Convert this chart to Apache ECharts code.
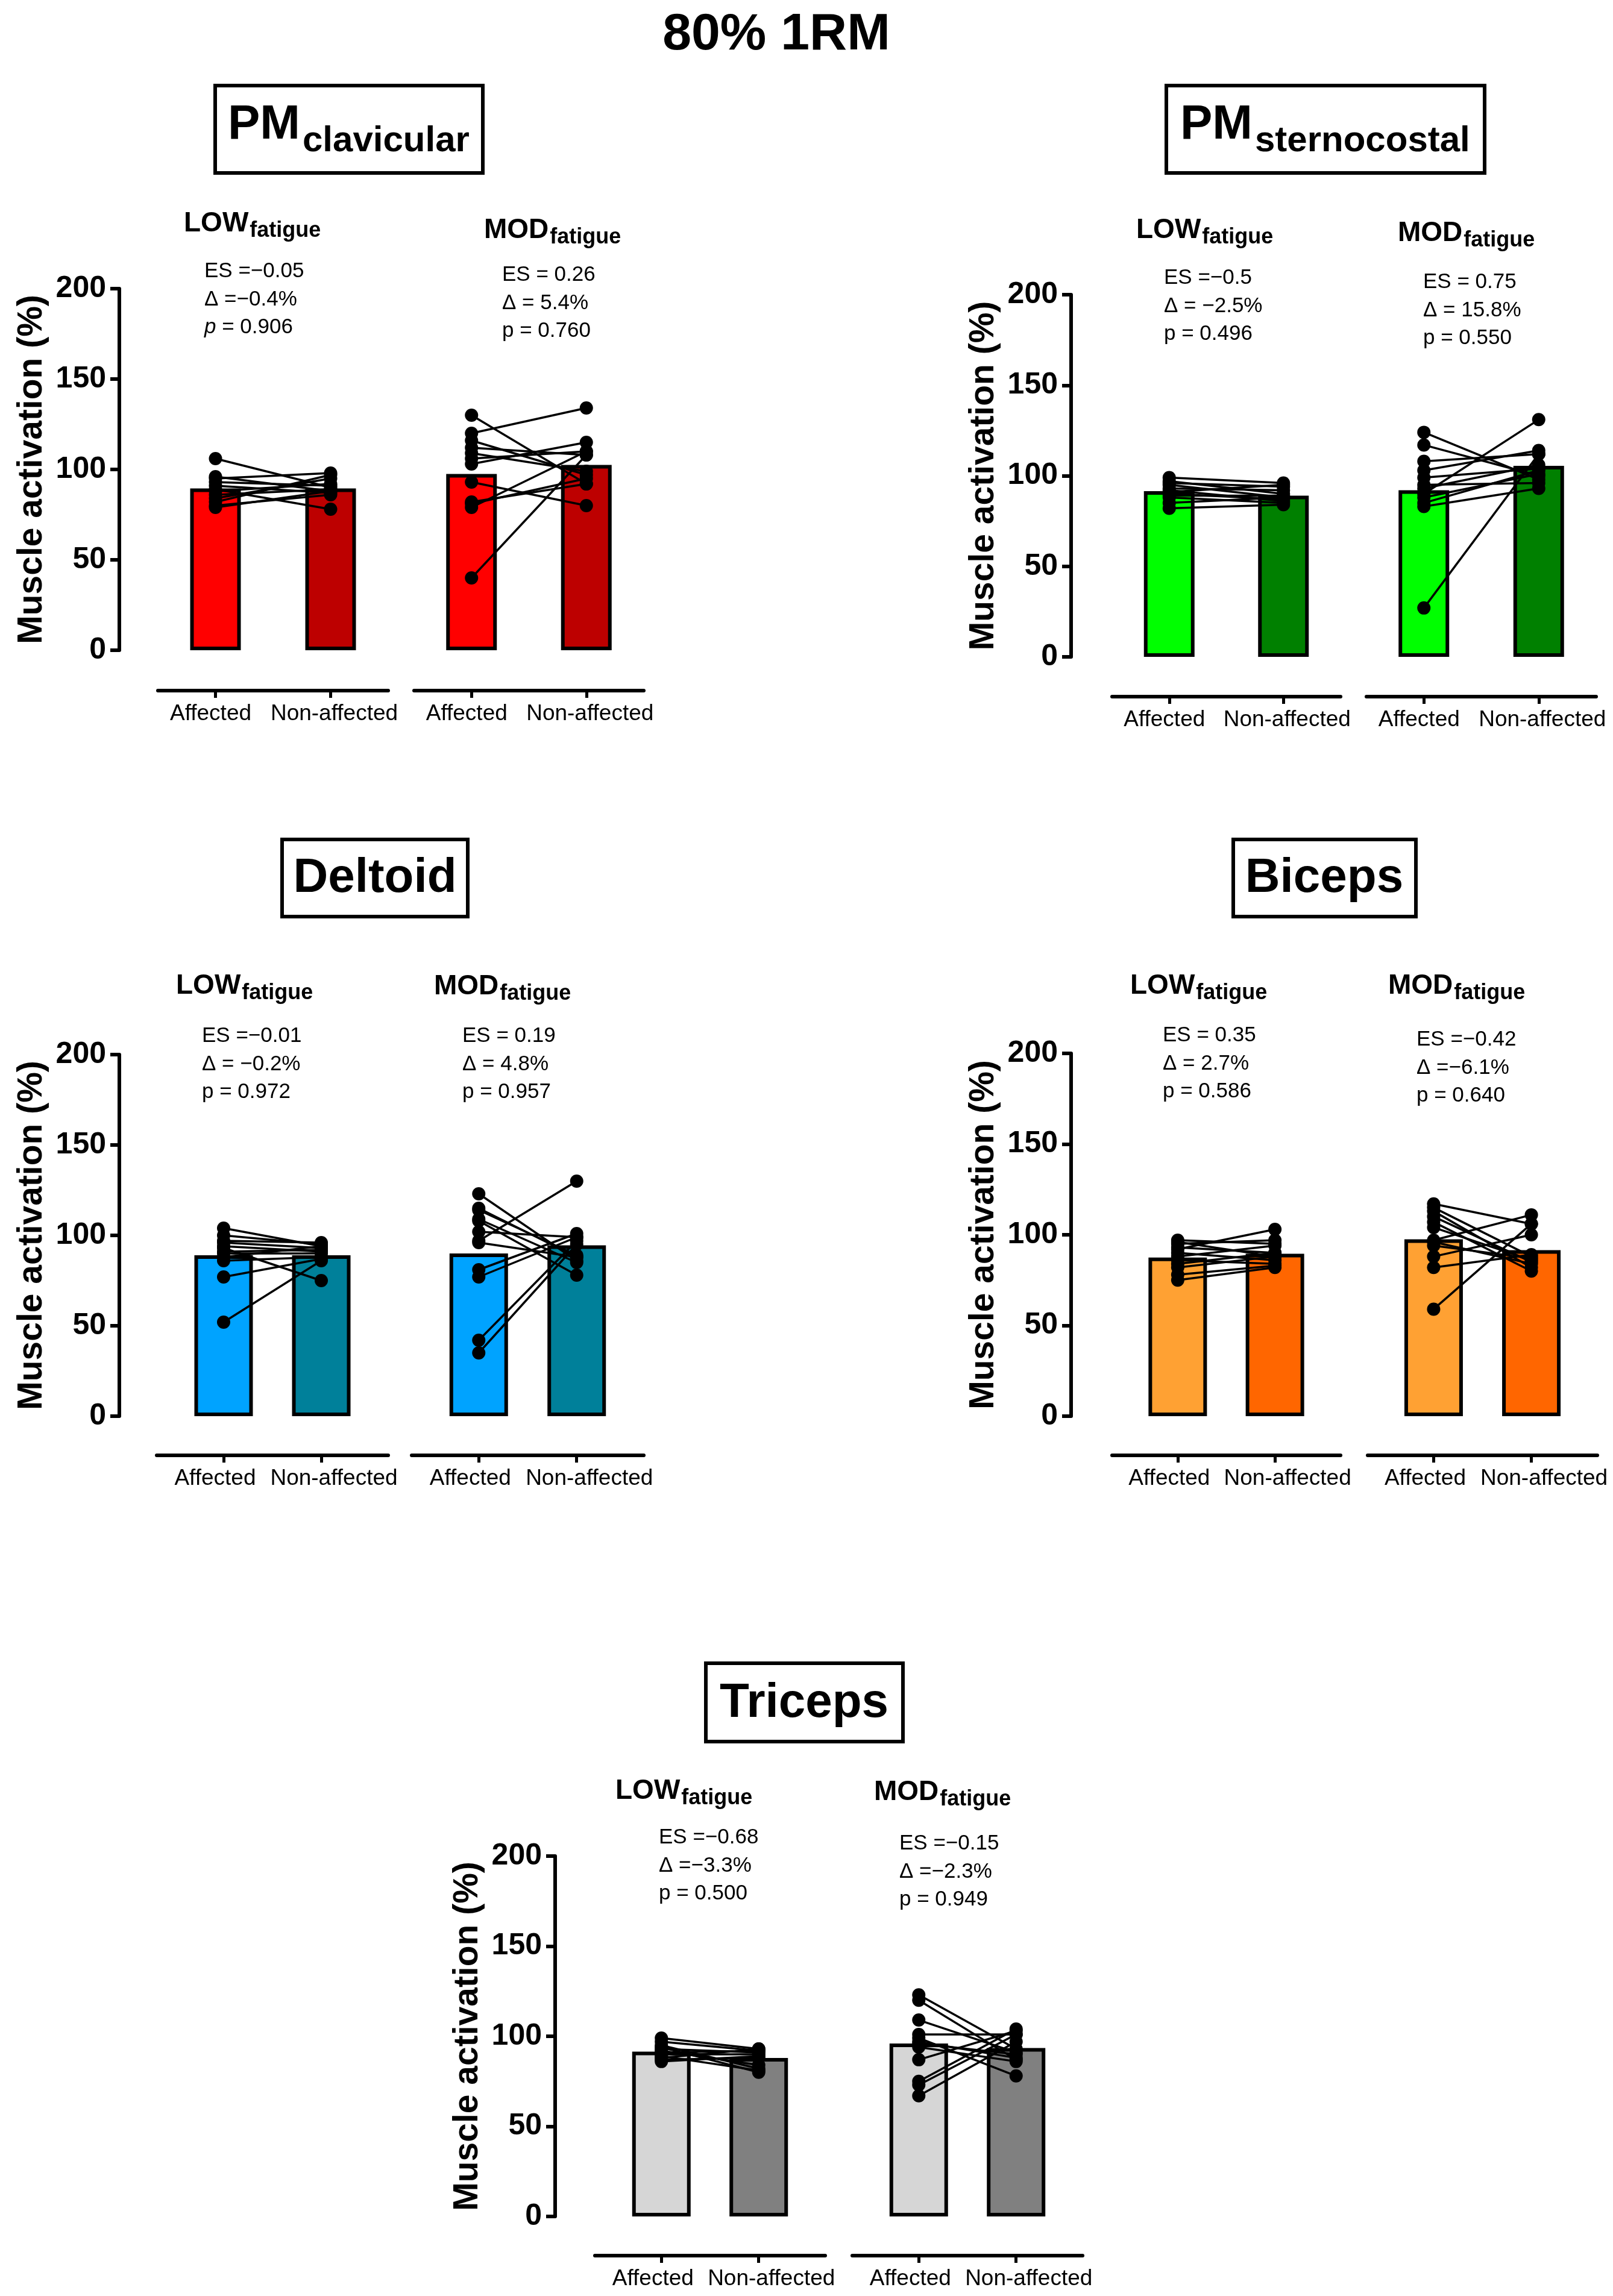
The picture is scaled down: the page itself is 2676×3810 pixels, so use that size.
<!DOCTYPE html>
<html>
<head>
<meta charset="utf-8">
<title>80% 1RM</title>
<script src="https://cdn.jsdelivr.net/npm/echarts@6/dist/echarts.min.js"></script>
<style>
  html, body { margin: 0; padding: 0; background: #fff; }
  #chart { width: 2676px; height: 3810px; }
</style>
</head>
<body>
<div id="chart"></div>
<script>
// categories and tick settings
var categories = ['Affected', 'Non-affected'];
var yMin = 0, yMax = 200, yStep = 50;

// PM clavicular - individual values (LOW / MOD fatigue)
var pmClavLowAff = [106, 96, 95, 93, 91, 89, 88, 86, 84, 82, 80, 79];
var pmClavLowNon = [90, 88, 98, 91, 87, 78, 92, 89, 95, 97, 86, 88];
var pmClavModAff = [130, 120, 116, 112, 109, 106, 103, 93, 82, 79, 40, 81];
var pmClavModNon = [92, 134, 97, 108, 99, 110, 115, 80, 92, 110, 108, 95];
var pmClavBars = [89.5, 89.5, 97.5, 102.5];

// PM sternocostal
var pmSterLowAff = [99, 97, 96, 95, 93, 92, 91, 90, 89, 88, 85, 82];
var pmSterLowNon = [96, 90, 94, 88, 92, 86, 95, 87, 89, 85, 88, 84];
var pmSterModAff = [124, 117, 108, 103, 99, 95, 90, 85, 83, 27, 93, 88];
var pmSterModNon = [98, 100, 112, 114, 104, 96, 131, 103, 93, 112, 106, 101];
var pmSterBars = [91.5, 89, 92, 105.5];

// Deltoid
var deltLowAff = [104, 100, 97, 96, 94, 93, 91, 90, 88, 86, 77, 52];
var deltLowNon = [94, 95, 96, 93, 91, 75, 92, 90, 94, 88, 87, 86];
var deltModAff = [123, 115, 114, 109, 108, 102, 97, 96, 81, 77, 42, 35];
var deltModNon = [86, 88, 89, 85, 78, 99, 130, 88, 101, 99, 97, 95];
var deltBars = [89, 89, 90, 94.5];

// Biceps
var bicLowAff = [97, 96, 95, 93, 92, 90, 88, 86, 84, 82, 78, 75];
var bicLowNon = [95, 88, 97, 90, 103, 86, 94, 84, 90, 88, 83, 82];
var bicModAff = [117, 115, 113, 110, 107, 104, 97, 96, 94, 88, 82, 59];
var bicModNon = [106, 88, 82, 85, 80, 86, 111, 84, 87, 100, 89, 106];
var bicBars = [87.5, 89.5, 97.5, 91.5];

// Triceps
var triLowAff = [99, 97, 95, 94, 93, 92, 91, 90, 89, 88, 87, 86];
var triLowNon = [93, 92, 82, 80, 91, 84, 92, 90, 81, 93, 88, 89];
var triModAff = [123, 120, 109, 101, 99, 97, 94, 87, 75, 73, 67, 96];
var triModNon = [93, 87, 91, 101, 78, 88, 86, 103, 104, 101, 97, 90];
var triBars = [91.5, 88, 96, 93.5];

// stats text
var pmClavStats = [['ES =\u22120.05', '\u0394 =\u22120.4%', 'p = 0.906'], ['ES = 0.26', '\u0394 = 5.4%', 'p = 0.760']];
var pmSterStats = [['ES =\u22120.5', '\u0394 = \u22122.5%', 'p = 0.496'], ['ES = 0.75', '\u0394 = 15.8%', 'p = 0.550']];
var deltStats = [['ES =\u22120.01', '\u0394 = \u22120.2%', 'p = 0.972'], ['ES = 0.19', '\u0394 = 4.8%', 'p = 0.957']];
var bicStats = [['ES = 0.35', '\u0394 = 2.7%', 'p = 0.586'], ['ES =\u22120.42', '\u0394 =\u22126.1%', 'p = 0.640']];
var triStats = [['ES =\u22120.68', '\u0394 =\u22123.3%', 'p = 0.500'], ['ES =\u22120.15', '\u0394 =\u22122.3%', 'p = 0.949']];

var FONT = '"Liberation Sans", Arial, Helvetica, sans-serif';
var cv = document.createElement('canvas').getContext('2d');
function measure(str, size, bold) {
    cv.font = (bold ? 'bold ' : '') + size + 'px ' + FONT;
    return cv.measureText(str).width;
}

// panel layout (pixels)
var panels = [
    { pts: [pmClavLowAff, pmClavLowNon, pmClavModAff, pmClavModNon], bars: pmClavBars, stats: pmClavStats,
      colors: ['#FF0000', '#BD0000'], title: ['PM', 'clavicular'], tx: 378, tb: 236, box: [357, 142, 444, 145],
      axisX: 198, top: 479, y0: 1079, line: 1146, low: [262, 644], mod: [687, 1068], m: 0.5, bw: 84, shift: [8, 6],
      lowLbl: [305, 387], modLbl: [803, 398], esLow: [339, 463], esMod: [833, 469], italicP: true },
    { pts: [pmSterLowAff, pmSterLowNon, pmSterModAff, pmSterModNon], bars: pmSterBars, stats: pmSterStats,
      colors: ['#00FF00', '#008000'], title: ['PM', 'sternocostal'], tx: 1958, tb: 236, box: [1935, 142, 528, 145],
      axisX: 1777, top: 489, y0: 1090, line: 1156, low: [1845, 2224], mod: [2267, 2648], m: 0.5, bw: 84, shift: [8, 6],
      lowLbl: [1885, 398], modLbl: [2319, 403], esLow: [1931, 474], esMod: [2361, 481] },
    { pts: [deltLowAff, deltLowNon, deltModAff, deltModNon], bars: deltBars, stats: deltStats,
      colors: ['#00A3FF', '#00809A'], title: 'Deltoid', tcx: 622, tb: 1486, box: [468, 1393, 308, 128],
      axisX: 198, top: 1750, y0: 2350, line: 2415, low: [260, 644], mod: [683, 1068], m: 0.685, bw: 97, shift: [14, 21],
      lowLbl: [292, 1652], modLbl: [720, 1653], esLow: [335, 1732], esMod: [767, 1732] },
    { pts: [bicLowAff, bicLowNon, bicModAff, bicModNon], bars: bicBars, stats: bicStats,
      colors: ['#FFA133', '#FF6600'], title: 'Biceps', tcx: 2197, tb: 1486, box: [2046, 1393, 303, 128],
      axisX: 1777, top: 1748, y0: 2350, line: 2415, low: [1845, 2224], mod: [2269, 2650], m: 0.675, bw: 97, shift: [14, 21],
      lowLbl: [1875, 1652], modLbl: [2303, 1652], esLow: [1929, 1731], esMod: [2350, 1738] },
    { pts: [triLowAff, triLowNon, triModAff, triModNon], bars: triBars, stats: triStats,
      colors: ['#D6D6D6', '#808080'], title: 'Triceps', tcx: 1334, tb: 2855, box: [1171, 2760, 327, 130],
      axisX: 921, top: 3080, y0: 3678, line: 3743, low: [987, 1369], mod: [1414, 1796], m: 0.683, bw: 97, shift: [14, 21],
      lowLbl: [1021, 2988], modLbl: [1450, 2990], esLow: [1093, 3062], esMod: [1492, 3072] }
];

function label(x, base, str, size, bold, align, rich) {
    var st = {
        text: str, fontSize: size, fontWeight: bold ? 'bold' : 'normal', fontFamily: FONT, fill: '#000',
        align: align || 'left', verticalAlign: 'middle',
        textAlign: align || 'left', textVerticalAlign: 'middle'
    };
    if (rich) st.rich = rich;
    return { type: 'text', x: x, y: base - 0.35 * size, silent: true, style: st };
}
function subLabel(x, base, main, sub, ms, ss, drop, gap) {
    var w = measure(main, ms, true);
    return [label(x, base, main, ms, true), label(x + w + gap, base + drop, sub, ss, true)];
}

var grids = [], xAxes = [], yAxes = [], series = [], graphics = [];

graphics.push(label(1288, 88, '80% 1RM', 86, true, 'center'));

panels.forEach(function (p, pi) {
    // title box
    graphics.push({ type: 'rect', silent: true, shape: { x: p.box[0], y: p.box[1], width: p.box[2], height: p.box[3] },
        style: { fill: 'none', stroke: '#000', lineWidth: 6 } });
    if (Array.isArray(p.title)) {
        graphics = graphics.concat(subLabel(p.tx, p.tb, p.title[0], p.title[1], 80, 60, 19, 4));
    } else {
        graphics.push(label(p.tcx, p.tb, p.title, 80, true, 'center'));
    }
    graphics = graphics.concat(subLabel(p.lowLbl[0], p.lowLbl[1], 'LOW', 'fatigue', 46, 36, 9, 2));
    graphics = graphics.concat(subLabel(p.modLbl[0], p.modLbl[1], 'MOD', 'fatigue', 46, 36, 9, 2));

    [p.esLow, p.esMod].forEach(function (pos, g) {
        p.stats[g].forEach(function (s, k) {
            var base = pos[1] + k * 46.5;
            if (p.italicP && g === 0 && k === 2) {
                graphics.push(label(pos[0], base, '{i|p}' + s.slice(1), 35, false, 'left',
                    { i: { fontStyle: 'italic', fontSize: 35, fontFamily: FONT, fill: '#000' } }));
            } else {
                graphics.push(label(pos[0], base, s, 35, false));
            }
        });
    });

    [p.low, p.mod].forEach(function (ext, g) {
        var gi = pi * 2 + g;
        grids.push({ left: ext[0], top: p.top, width: ext[1] - ext[0], height: p.y0 - p.top });
        xAxes.push({
            gridIndex: gi, type: 'value', min: -p.m, max: 1 + p.m, position: 'bottom', offset: p.line - p.y0,
            axisLine: { show: true, onZero: false, lineStyle: { color: '#000', width: 6 } },
            axisTick: { show: true, customValues: [0, 1], length: 12, lineStyle: { color: '#000', width: 5 } },
            axisLabel: {
                show: true, customValues: [0, 1], hideOverlap: false, showMinLabel: true, showMaxLabel: true,
                fontSize: 37, fontFamily: FONT, color: '#000', margin: 20,
                formatter: function (v) { return v < 0.5 ? '{a|' + categories[0] + '}' : '{b|' + categories[1] + '}'; },
                rich: {
                    a: { fontSize: 37, fontFamily: FONT, color: '#000', padding: [0, p.shift[0] * 2, 0, 0] },
                    b: { fontSize: 37, fontFamily: FONT, color: '#000', padding: [0, 0, 0, p.shift[1] * 2] }
                }
            },
            splitLine: { show: false }
        });
        if (g === 0) {
            yAxes.push({
                gridIndex: gi, type: 'value', min: yMin, max: yMax, interval: yStep, position: 'left',
                offset: ext[0] - p.axisX,
                axisLine: { show: true, onZero: false, lineStyle: { color: '#000', width: 6 } },
                axisTick: { show: true, length: 15, lineStyle: { color: '#000', width: 6 } },
                axisLabel: { fontSize: 50, fontWeight: 'bold', fontFamily: FONT, color: '#000', margin: 22 },
                splitLine: { show: false },
                name: 'Muscle activation (%)', nameLocation: 'middle', nameGap: 116,
                nameTextStyle: { fontSize: 57, fontWeight: 'bold', fontFamily: FONT, color: '#000' }
            });
        } else {
            yAxes.push({ gridIndex: gi, type: 'value', min: yMin, max: yMax, show: false, splitLine: { show: false } });
        }

        // bars
        series.push({
            type: 'bar', xAxisIndex: gi, yAxisIndex: gi, barWidth: p.bw, z: 1, silent: true,
            itemStyle: { borderColor: '#000', borderWidth: 6 },
            data: [
                { value: [0, p.bars[g * 2]], itemStyle: { color: p.colors[0] } },
                { value: [1, p.bars[g * 2 + 1]], itemStyle: { color: p.colors[1] } }
            ]
        });
        // paired points
        var a = p.pts[g * 2], b = p.pts[g * 2 + 1];
        for (var i = 0; i < a.length; i++) {
            series.push({
                type: 'line', xAxisIndex: gi, yAxisIndex: gi, z: 3, silent: true,
                symbol: 'circle', symbolSize: 22, showSymbol: true,
                lineStyle: { color: '#000', width: 3.5 }, itemStyle: { color: '#000', borderWidth: 0 },
                data: [[0, a[i]], [1, b[i]]]
            });
        }
    });
});

var myChart = echarts.init(document.getElementById('chart'));
myChart.setOption({
    backgroundColor: '#fff',
    animation: false,
    textStyle: { fontFamily: FONT },
    grid: grids,
    xAxis: xAxes,
    yAxis: yAxes,
    series: series,
    graphic: { elements: graphics }
});
</script>
</body>
</html>
